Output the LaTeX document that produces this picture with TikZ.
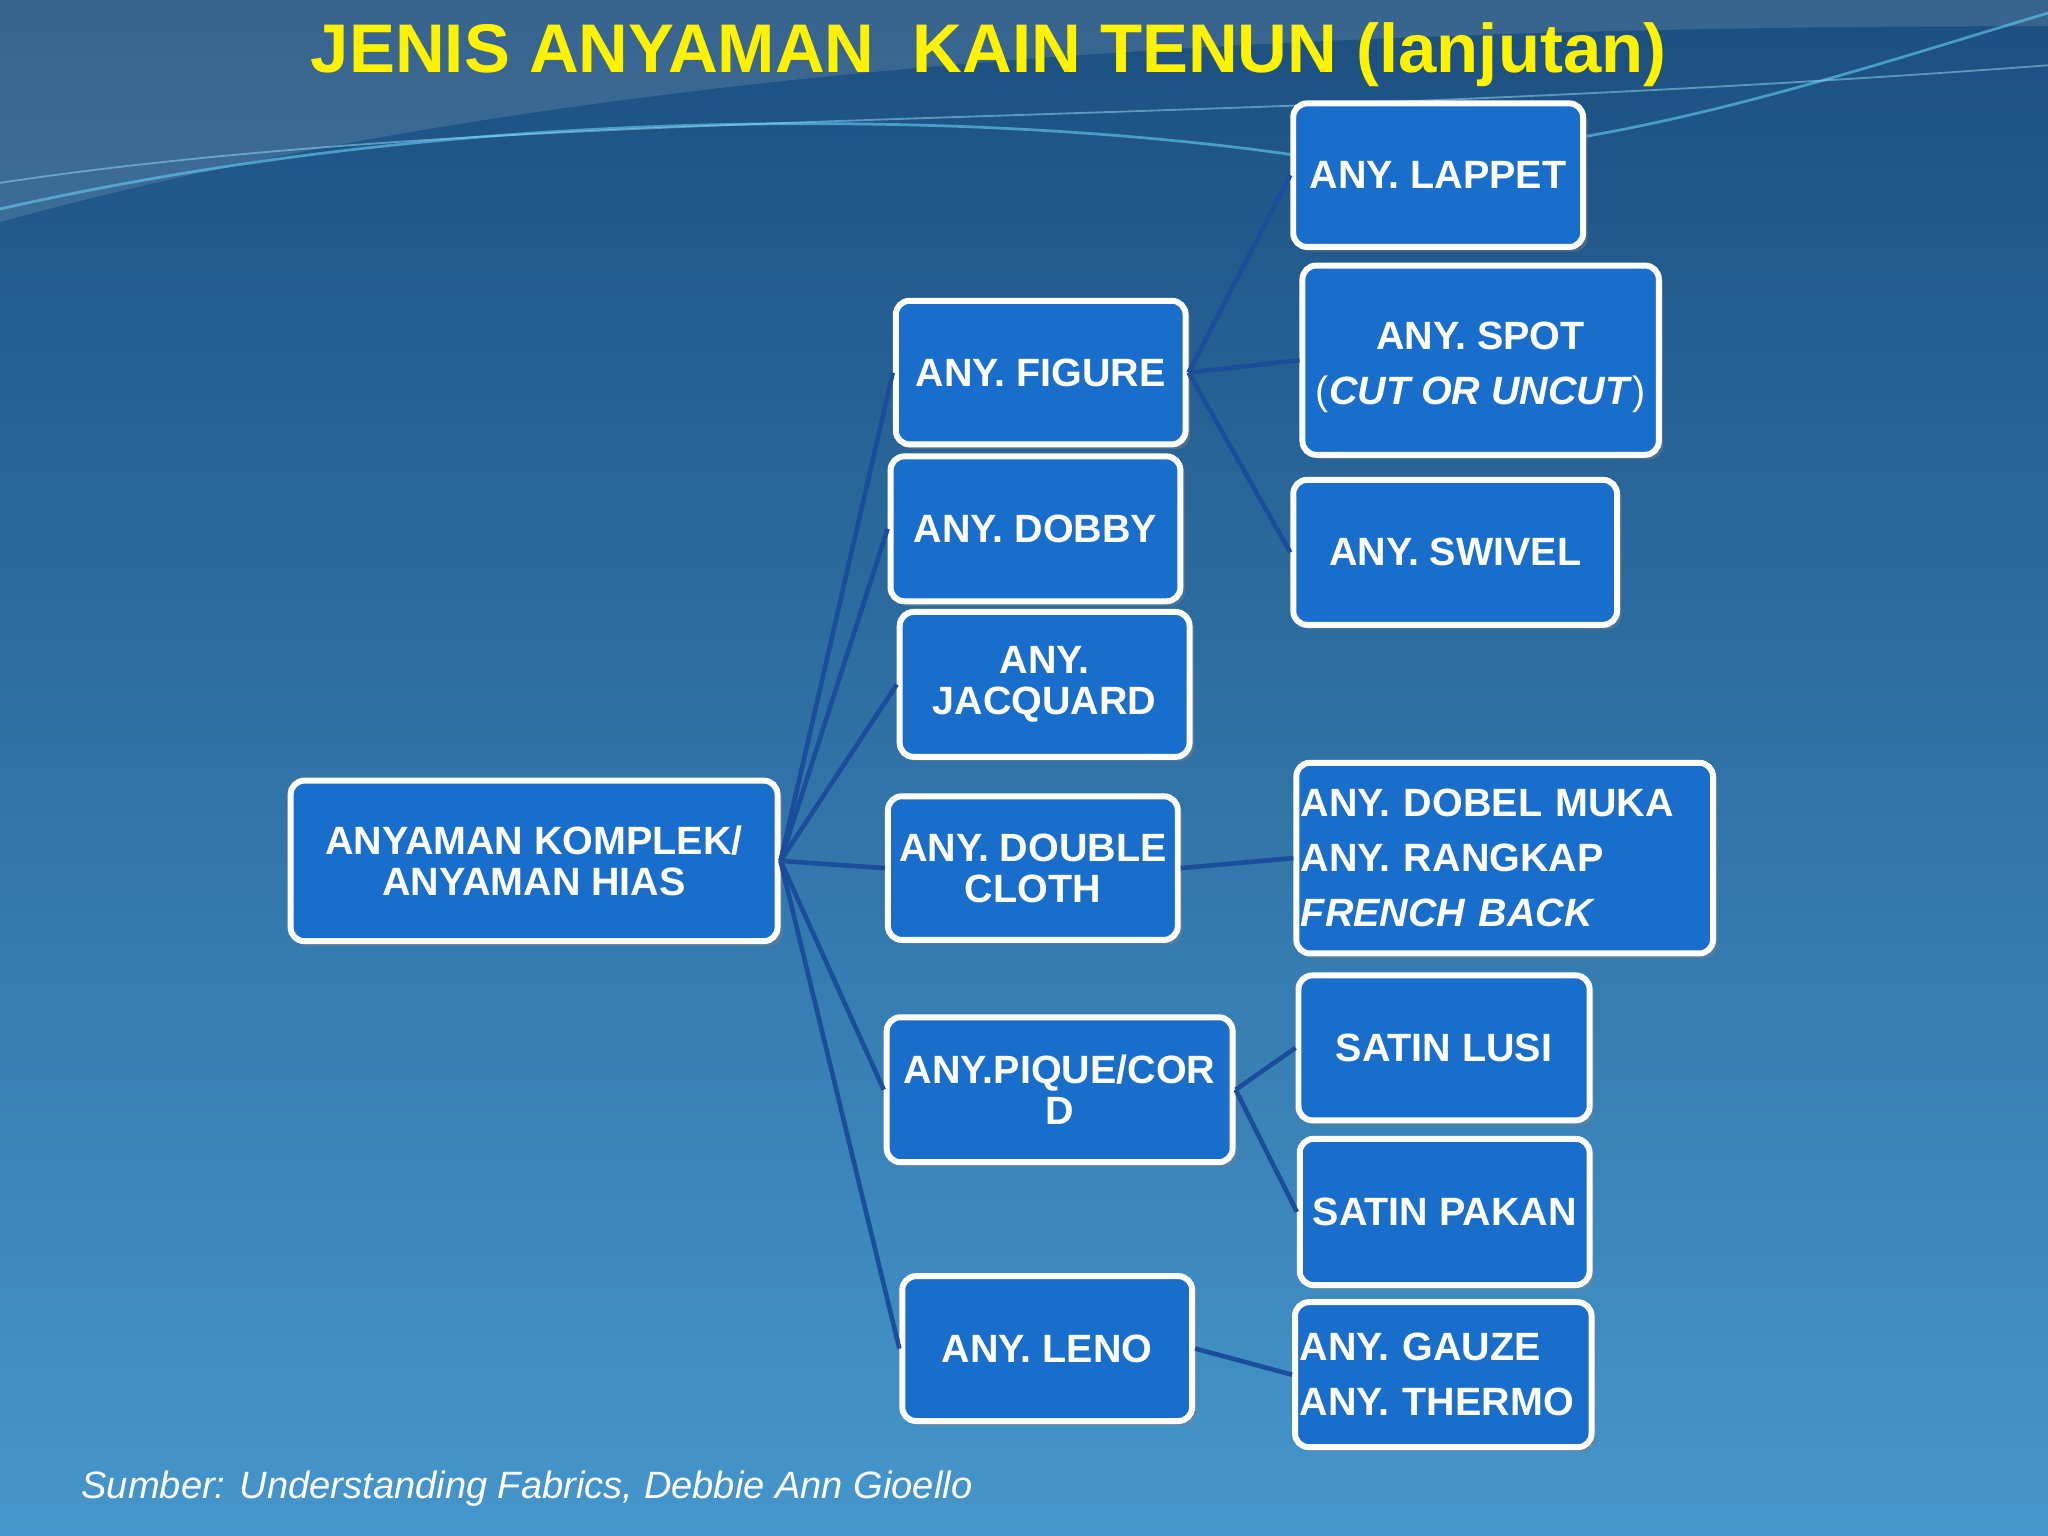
\documentclass[tikz,border=0pt]{standalone}
\usepackage{fontspec}
\setmainfont{Liberation Sans}
\usetikzlibrary{shadows}
\definecolor{boxc}{HTML}{1A6ECB}
\definecolor{linec}{HTML}{1A4E9A}
\definecolor{bgtop}{HTML}{1C4F80}
\definecolor{bgbot}{HTML}{4596CC}
\tikzset{
 bx/.style={draw=white,line width=1.3pt,fill=boxc,rounded corners=3pt,text=white,font=\bfseries\fontsize{8.6}{9}\selectfont,inner sep=1pt,align=center,drop shadow={shadow xshift=1pt,shadow yshift=-1pt,opacity=0.4}},
 cn/.style={draw=linec,line width=1pt}
}
\newcommand{\bxat}[6]{\node[bx,minimum width={(#4-#2)*0.01cm},minimum height={(#5-#3)*0.01cm}] (#1) at ({(#2+#4)*0.005},{-(#3+#5)*0.005}) {#6};}
\begin{document}
\begin{tikzpicture}
\useasboundingbox (0,0) rectangle (15.68,-11.76);
\shade[top color=bgtop,bottom color=bgbot] (0,0) rectangle (15.68,-11.76);
\fill[white,opacity=0.12] (0,-1.7) .. controls (4,-0.6) and (9,-0.2) .. (15.68,-0.2) -- (15.68,0) -- (0,0) -- cycle;
\draw[cyan!60,line width=0.6pt,opacity=0.6] (0,-1.6) .. controls (4,-0.7) and (8,-0.9) .. (10,-1.2) .. controls (12,-1.3) and (14,-0.6) .. (15.68,-0.1);
\draw[cyan!40,line width=0.4pt,opacity=0.5] (0,-1.4) .. controls (4,-0.8) and (9,-1.0) .. (15.68,-0.5);
\node[text=yellow,font=\bfseries\fontsize{15}{16}\selectfont] (title) at (7.57,-0.42) {JENIS ANYAMAN \ KAIN TENUN (lanjutan)};
\bxat{root}{222}{597}{595}{720}{ANYAMAN KOMPLEK/\\ANYAMAN HIAS}
\bxat{fig}{685}{230}{907}{340}{ANY. FIGURE}
\bxat{dob}{681}{349}{903}{460}{ANY. DOBBY}
\bxat{jac}{688}{468}{910}{579}{ANY.\\JACQUARD}
\bxat{dc}{679}{609}{901}{719}{ANY. DOUBLE\\CLOTH}
\bxat{pq}{678}{778}{943}{889}{ANY.PIQUE/COR\\D}
\bxat{len}{690}{976}{912}{1087}{ANY. LENO}
\bxat{lap}{989}{79}{1211}{189}{ANY. LAPPET}
\bxat{spot}{996}{203}{1269}{348}{\raisebox{0pt}[0pt][0pt]{}\\ANY. SPOT\\[3pt]\textmd{(}\textit{CUT OR UNCUT}\textmd{)}}
\bxat{sw}{989}{367}{1237}{478}{ANY. SWIVEL}
\node[bx,minimum width=3.16cm,minimum height=1.46cm,align=left,text width=3.12cm] (dm) at (11.52,-6.57) {ANY. DOBEL MUKA\\[3pt]ANY. RANGKAP\\[3pt]\textit{FRENCH BACK}};
\bxat{sl}{993}{746}{1216}{857}{SATIN LUSI}
\bxat{sp}{994}{871}{1216}{983}{SATIN PAKAN}
\node[bx,minimum width=2.22cm,minimum height=1.11cm,align=left,text width=2.2cm] (gz) at (11.05,-10.525) {ANY. GAUZE\\[3pt]ANY. THERMO};
\foreach \c in {fig,dob,jac,dc,pq,len}{\draw[cn] (root.east) -- (\c.west);}
\foreach \c in {lap,spot,sw}{\draw[cn] (fig.east) -- (\c.west);}
\draw[cn] (dc.east) -- (dm.west);
\draw[cn] (pq.east) -- (sl.west);
\draw[cn] (pq.east) -- (sp.west);
\draw[cn] (len.east) -- (gz.west);
\node[text=white,font=\itshape\fontsize{8.3}{10}\selectfont,anchor=west] (src) at (0.5,-11.4) {Sumber: Understanding Fabrics, Debbie Ann Gioello};
\end{tikzpicture}
\end{document}
